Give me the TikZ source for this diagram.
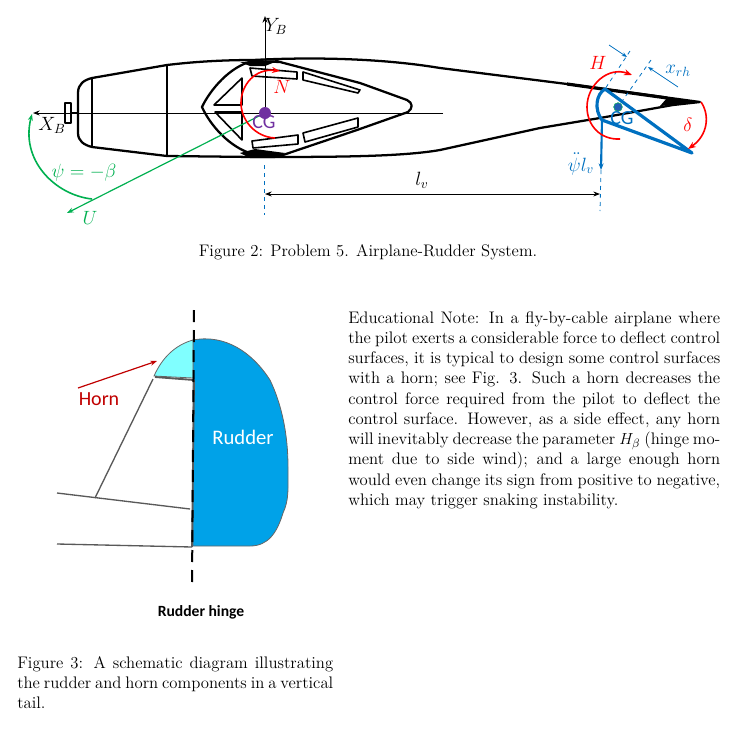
\documentclass[tikz,border=0pt]{standalone}
\usepackage{amsmath}
\usepackage{fontspec}
\newfontfamily\labelfont{Carlito}
\usetikzlibrary{arrows.meta}
\definecolor{mygreen}{RGB}{0,176,80}
\definecolor{myblue}{RGB}{0,112,192}
\definecolor{rudderblue}{RGB}{0,162,232}
\definecolor{horncyan}{RGB}{128,255,255}
\definecolor{cgpurple}{RGB}{112,48,160}
\definecolor{horndark}{RGB}{192,0,0}
\tikzset{
  body/.style={draw,line width=1.7pt,line join=round},
  thin axis/.style={draw,line width=0.7pt,-{Stealth[length=5pt]}},
  tailblue/.style={draw,myblue,line width=2.4pt,line join=round},
  hingedash/.style={draw,myblue,line width=0.6pt,dashed},
  fin/.style={draw,black!65,line width=1pt},
  mathlabel/.style={font=\fontsize{14}{16}\selectfont,inner sep=0pt},
  cglabelstyle/.style={font=\labelfont\fontsize{15}{16}\selectfont,inner sep=0pt},
  paper/.style={font=\fontsize{12.55}{15.2}\selectfont,inner sep=0pt,align=justify}
}
\begin{document}
\begin{tikzpicture}[x=0.75pt,y=-0.75pt]
\useasboundingbox (0,0) rectangle (753,754);
% airplane seen from above
\begin{scope}
\path[body] (78,113) -- (78,93) .. controls (78,84) and (84,80) .. (92,78) -- (167,65) .. controls (200,61) and (230,60) .. (253,60) .. controls (310,57) and (380,58) .. (440,68) -- (567,84) -- (700,102) -- (673,105) -- (600,118) -- (540,128) -- (440,150) .. controls (400,157) and (330,157) .. (253,157) -- (167,156) -- (92,147) .. controls (84,145) and (78,141) .. (78,133) -- cycle;
\path[draw,line width=2.4pt] (567,84) -- (667,98);
\path[draw,line width=1.2pt] (92,78) -- (92,147);
\path[draw,line width=1.2pt] (167,65) -- (167,156);
\path[body,line width=1.2pt] (65,103) rectangle (71,123);
\path[draw,line width=1.2pt] (71,113) -- (78,113);
% wing root
\path[body] (253,61) .. controls (230,66) and (210,90) .. (202,107) .. controls (210,125) and (230,148) .. (253,154) -- (283,155) -- (357,130) -- (408,112) .. controls (413,108) and (413,103) .. (407,100) -- (360,83) -- (280,62) -- cycle;
\path[body,line width=1.2pt] (242,78) -- (214,105) -- (242,105) -- cycle;
\path[body,line width=1.2pt] (215,112) -- (242,112) -- (242,140) -- cycle;
\path[body,line width=1.2pt] (250,68) -- (297,72) -- (297,79) -- (252,76) -- cycle;
\path[body,line width=1.2pt] (303,72) -- (360,90) -- (358,93) -- (303,80) -- cycle;
\path[body,line width=1.2pt] (303,133) -- (358,118) -- (358,127) -- (305,142) -- cycle;
\path[body,line width=1.2pt] (252,141) -- (298,135) -- (298,144) -- (253,148) -- cycle;
\path[fill] (240,62) -- (280,60) -- (265,66) -- (250,66) -- cycle;
\path[fill] (240,153) -- (255,149) -- (285,153) -- (275,158) -- (250,158) -- cycle;
\path[fill] (667,98) -- (700,102) -- (673,105) -- (660,106) -- cycle;
% body axes
\coordinate (origin) at (265,113);
\coordinate (xtip) at (33,113);
\coordinate (xend) at (443,113);
\coordinate (ytip) at (265,16);
\path[thin axis] (xend) -- (xtip);
\path[thin axis] (origin) -- (ytip);
\node[mathlabel] (yb) at (276,26) {$Y_B$};
\node[mathlabel] (xb) at (52,125) {$X_B$};
% wind direction and sideslip
\coordinate (utip) at (67,213);
\coordinate (arcstart) at (92,199);
\coordinate (arctip) at (32,114);
\path[draw,mygreen,line width=0.9pt,-{Stealth[length=5pt]}] (origin) -- (utip);
\path[draw,mygreen,line width=1.2pt,-{Stealth[length=5pt]}] (arcstart) .. controls (55,195) and (20,160) .. (arctip);
\node[mathlabel,text=mygreen] (psi) at (84,173) {$\psi=-\beta$};
\node[mathlabel,text=mygreen] (u) at (90,218) {$U$};
% yaw moment
\coordinate (nstart) at (275,138);
\coordinate (ntip) at (280,71);
\path[draw,red,line width=1.2pt,-{Stealth[length=6pt]}] (nstart) .. controls (255,137) and (241,120) .. (241,103) .. controls (241,85) and (255,68) .. (ntip);
\node[mathlabel,text=red] (n) at (282,87) {$N$};
\node[circle,fill=cgpurple,inner sep=0pt,minimum size=9pt] (cg) at (origin) {};
\node[cglabelstyle,text=cgpurple] (cglabel) at (264,122) {CG};
% moment arm
\coordinate (dasha) at (264,165);
\coordinate (dashb) at (264,215);
\coordinate (arma) at (265,194);
\coordinate (armb) at (600,194);
\path[hingedash] (dasha) -- (dashb);
\path[draw,line width=0.7pt,{Stealth[length=5pt]}-{Stealth[length=5pt]}] (arma) -- (armb);
\node[mathlabel] (lv) at (422,180) {$l_v$};
% rudder, deflected
\coordinate (nose) at (605,89);
\coordinate (noseb) at (602,120);
\coordinate (tip) at (692,153);
\coordinate (hinge) at (618,107);
\path[tailblue] (tip) -- (nose) .. controls (596,94) and (594,110) .. (noseb) -- cycle;
\coordinate (force) at (601,170);
\coordinate (dashend) at (600,211);
\path[hingedash] (force) -- (dashend);
\path[draw,myblue,line width=1.6pt,-{Stealth[length=5pt]}] (noseb) -- (force);
\node[mathlabel,text=myblue] (psil) at (581,164) {$\ddot{\psi}l_v$};
\coordinate (topa) at (630,51);
\coordinate (topb) at (651,60);
\path[hingedash] (topa) -- (nose);
\path[hingedash] (topb) -- (hinge);
\node[circle,fill=myblue!70!cgpurple,draw=mygreen,inner sep=0pt,minimum size=6.5pt] (cgtail) at (hinge) {};
\node[cglabelstyle,text=myblue] (cgtaillabel) at (622,118) {CG};
\coordinate (xa) at (609,45);
\coordinate (xb1) at (627,57);
\coordinate (xc) at (678,87);
\coordinate (xd) at (648,67);
\path[draw,myblue,line width=0.6pt,-{Stealth[length=4pt]}] (xa) -- (xb1);
\path[draw,myblue,line width=0.6pt,-{Stealth[length=4pt]}] (xc) -- (xd);
\node[mathlabel,text=myblue] (xrh) at (678,71) {$x_{rh}$};
\coordinate (hstart) at (620,139);
\coordinate (htip) at (632,75);
\path[draw,red,line width=1.2pt,-{Stealth[length=6pt]}] (hstart) .. controls (600,140) and (587,125) .. (587,107) .. controls (587,85) and (608,66) .. (htip);
\node[mathlabel,text=red] (h) at (598,63) {$H$};
\coordinate (dstart) at (701,102);
\coordinate (dtip) at (688,149);
\path[draw,red,line width=1.2pt,-{Stealth[length=6pt]}] (dstart) .. controls (710,115) and (708,135) .. (dtip);
\node[mathlabel,text=red] (delta) at (688,125) {$\delta$};
\end{scope}
\node[paper] (fig2) at (368,252) {Figure 2: Problem 5. Airplane-Rudder System.};
% vertical tail with horn
\begin{scope}
\path[fill=rudderblue,draw=black!60,line width=0.6pt] (193,340) .. controls (225,334) and (252,352) .. (270,380) .. controls (282,405) and (288,435) .. (288,467) .. controls (288,490) and (289,500) .. (283,513) .. controls (277,533) and (268,546) .. (250,546) -- (193,546) -- cycle;
\path[fill=horncyan,draw=black!60,line width=0.6pt] (193,340) .. controls (175,345) and (162,358) .. (154,376) -- (193,378) -- cycle;
\path[fin,line width=1.4pt] (155,377) -- (194,380);
\path[fin,line width=1.4pt] (194,380) -- (192,547);
\coordinate (finroot) at (95,498);
\coordinate (fintop) at (153,379);
\coordinate (finl) at (57,493);
\coordinate (finr) at (190,509);
\coordinate (basel) at (57,544);
\coordinate (baser) at (192,547);
\path[fin] (fintop) -- (finroot);
\path[fin] (finl) -- (finr);
\path[fin] (basel) -- (baser);
\coordinate (hingetop) at (194,310);
\coordinate (hingebot) at (192,587);
\path[draw,line width=1.5pt,dash pattern=on 9pt off 6pt] (hingetop) -- (hingebot);
\coordinate (hornstart) at (78,388);
\coordinate (horntip) at (157,361);
\path[draw,horndark,line width=0.9pt,-{Stealth[length=5pt]}] (hornstart) -- (horntip);
\node[text=horndark,font=\labelfont\fontsize{15}{16}\selectfont] (horn) at (99,399) {Horn};
\node[text=white,font=\labelfont\fontsize{15.5}{16}\selectfont] (rudder) at (243,437) {Rudder};
\node[font=\labelfont\bfseries\fontsize{11.7}{13}\selectfont] (hingelabel) at (201,612) {Rudder hinge};
\end{scope}
\node[paper,anchor=north west,text width=279pt] (note) at (348,311) {Educational Note: In a fly-by-cable airplane where the pilot exerts a considerable force to deflect control surfaces, it is typical to design some control surfaces with a horn; see Fig. 3. Such a horn decreases the control force required from the pilot to deflect the control surface. However, as a side effect, any horn will inevitably decrease the parameter $H_\beta$ (hinge moment due to side wind); and a large enough horn would even change its sign from positive to negative, which may trigger snaking instability.};
\node[paper,anchor=north west,text width=237pt] (fig3) at (17,656) {Figure 3: A schematic diagram illustrating the rudder and horn components in a vertical tail.};
\end{tikzpicture}
\end{document}
